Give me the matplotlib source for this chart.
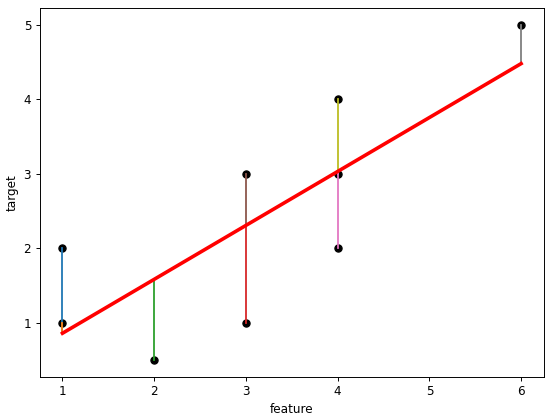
import numpy as np
import matplotlib
matplotlib.use("Agg")
import matplotlib.pyplot as plt

# data points
feature = [1, 1, 2, 3, 4, 3, 4, 6, 4]
target = [2, 1, 0.5, 1, 3, 3, 2, 5, 4]

x = np.array(feature)
y = np.array(target)

# least squares fit
slope, intercept = np.polyfit(x, y, 1)
pred = slope * x + intercept

dpi = 86.25
fig = plt.figure(figsize=(552 / dpi, 420 / dpi), dpi=dpi)
ax = fig.add_axes([0.0716, 0.1024, 0.914, 0.8786])

ax.scatter(x, y, color='black')

# residuals
for xi, yi, pi in zip(x, y, pred):
    ax.plot([xi, xi], [yi, pi])

xs = np.array([x.min(), x.max()])
ax.plot(xs, slope * xs + intercept, color='red', linewidth=3)

ax.set_xlabel("feature")
ax.set_ylabel("target")

fig.savefig("out.png", dpi=dpi)
